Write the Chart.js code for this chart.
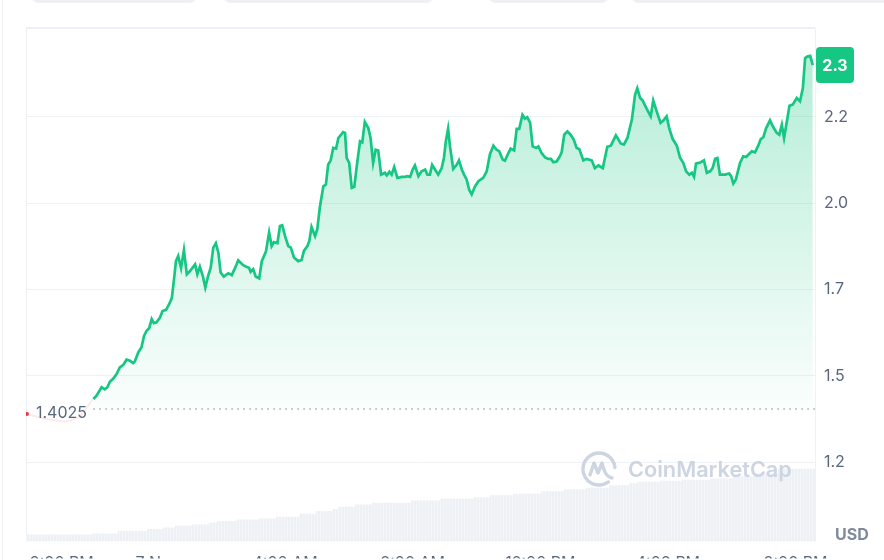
<!DOCTYPE html>
<html>
<head>
<meta charset="utf-8">
<script src="https://cdn.jsdelivr.net/npm/chart.js@4.4.0/dist/chart.umd.min.js"></script>
<style>
	html, body { margin: 0; padding: 0; background: #fff; }
	body { width: 884px; height: 560px; position: relative; overflow: hidden; font-family: Inter, sans-serif; }
	.tab { position: absolute; top: -10px; height: 13px; background: #eef0f3; border-radius: 0 0 8px 8px; }
	.edge { position: absolute; left: 2px; top: 0; width: 1px; height: 560px; background: #eff1f4; }
	#chart { position: absolute; left: 0; top: 0; }
</style>
</head>
<body>
<div class="tab" style="left:31px;width:166px"></div>
<div class="tab" style="left:223px;width:211px"></div>
<div class="tab" style="left:488px;width:121px"></div>
<div class="tab" style="left:631px;width:260px"></div>
<div class="edge"></div>
<canvas id="chart" width="884" height="560"></canvas>
<script>
'use strict'

// price, hours from midnight 7 Nov
const priceTimes = [-2.01,-1.91,-1.75,-1.65,-1.57,-1.49,-1.39,-1.28,-1.18,-1.07,
	-0.97,-0.86,-0.76,-0.71,-0.60,-0.50,-0.42,-0.34,-0.26,-0.18,
	-0.11,-0.03,0.08,0.16,0.27,0.37,0.45,0.52,0.58,0.65,
	0.74,0.83,0.92,1.02,1.18,1.25,1.33,1.42,1.50,1.59,
	1.67,1.75,1.83,1.91,1.98,2.08,2.22,2.33,2.48,2.53,
	2.69,2.80,2.87,2.92,3.00,3.08,3.19,3.27,3.40,3.50,
	3.58,3.65,3.76,3.84,3.91,4.00,4.10,4.18,4.28,4.41,
	4.52,4.59,4.70,4.76,4.83,4.94,5.01,5.09,5.20,5.28,
	5.35,5.43,5.51,5.60,5.67,5.82,5.88,5.93,6.01,6.09,
	6.17,6.26,6.35,6.42,6.50,6.61,6.68,6.76,6.84,6.92,
	7.01,7.13,7.19,7.27,7.34,7.42,7.52,7.66,7.76,7.83,
	7.92,8.00,8.07,8.18,8.28,8.39,8.46,8.54,8.61,8.70,
	8.80,8.91,8.98,9.04,9.11,9.17,9.27,9.38,9.45,9.54,
	9.61,9.69,9.77,9.85,9.95,10.06,10.21,10.32,10.42,10.53,
	10.63,10.71,10.82,10.89,11.00,11.07,11.18,11.26,11.34,11.44,
	11.52,11.59,11.68,11.76,11.87,11.94,12.04,12.15,12.25,12.33,
	12.41,12.51,12.60,12.67,12.75,12.85,12.95,13.05,13.14,13.22,
	13.35,13.45,13.61,13.71,13.82,13.96,14.10,14.21,14.37,14.52,
	14.62,14.73,14.87,14.97,15.04,15.13,15.21,15.34,15.46,15.54,
	15.65,15.77,15.86,15.96,16.04,16.15,16.28,16.38,16.48,16.57,
	16.67,16.75,16.82,16.88,17.03,17.13,17.22,17.32,17.40,17.48,
	17.55,17.63,17.79,17.92,17.98,18.05,18.13,18.26,18.36,18.45,
	18.55,18.63,18.73,18.83,18.91,18.99,19.08,19.20,19.30,19.41,
	19.49,19.57,19.64,19.72,19.81,19.91,20.04,20.14,20.23,20.30,
	20.37,20.46,20.54];

const priceValues = [1.430,1.439,1.462,1.456,1.462,1.477,1.485,1.498,1.516,1.523,
	1.537,1.534,1.528,1.532,1.557,1.571,1.602,1.616,1.623,1.648,
	1.637,1.639,1.652,1.670,1.673,1.689,1.705,1.757,1.806,1.820,
	1.787,1.836,1.770,1.779,1.797,1.770,1.791,1.766,1.734,1.766,
	1.788,1.843,1.855,1.829,1.775,1.764,1.773,1.768,1.797,1.808,
	1.795,1.790,1.788,1.777,1.784,1.764,1.759,1.806,1.832,1.884,
	1.847,1.858,1.855,1.902,1.904,1.874,1.847,1.843,1.816,1.806,
	1.809,1.834,1.847,1.861,1.899,1.874,1.893,1.953,2.010,2.015,
	2.069,2.081,2.115,2.113,2.142,2.158,2.156,2.088,2.074,2.006,
	2.009,2.074,2.133,2.130,2.186,2.169,2.142,2.074,2.110,2.108,
	2.042,2.047,2.040,2.050,2.042,2.063,2.033,2.036,2.036,2.038,
	2.036,2.056,2.067,2.038,2.051,2.056,2.042,2.042,2.069,2.056,
	2.042,2.060,2.088,2.133,2.167,2.119,2.058,2.069,2.081,2.056,
	2.042,2.029,2.001,1.988,2.009,2.024,2.033,2.051,2.097,2.121,
	2.110,2.106,2.083,2.080,2.101,2.113,2.108,2.167,2.167,2.205,
	2.195,2.199,2.184,2.119,2.115,2.119,2.101,2.089,2.085,2.085,
	2.076,2.078,2.090,2.103,2.151,2.160,2.151,2.137,2.115,2.112,
	2.081,2.085,2.081,2.060,2.067,2.060,2.118,2.121,2.149,2.127,
	2.124,2.142,2.192,2.260,2.278,2.251,2.244,2.221,2.201,2.244,
	2.214,2.183,2.190,2.201,2.169,2.139,2.121,2.088,2.074,2.051,
	2.042,2.047,2.036,2.072,2.076,2.081,2.047,2.051,2.060,2.085,
	2.087,2.042,2.042,2.045,2.038,2.018,2.029,2.074,2.092,2.090,
	2.099,2.106,2.103,2.121,2.139,2.144,2.169,2.190,2.172,2.156,
	2.151,2.178,2.142,2.183,2.230,2.233,2.251,2.242,2.278,2.360,
	2.364,2.366,2.341];

// faded part before the period start
const preTimes = [-4.09, -3.53, -2.90, -2.43, -2.02];
const preValues = [1.389, 1.376, 1.368, 1.381, 1.430];

// 24h volume (M USD), step starts
const volumeTimes = [-4.12,-2.02,-1.24,-0.33,0.17,0.55,1.08,1.61,1.87,2.49,
	3.18,3.71,4.44,4.97,5.50,5.66,6.19,6.72,7.95,8.86,
	9.89,10.42,11.14,12.02,12.74,13.43,14.15,14.78,15.03,15.75,
	16.44,17.32,18.04,18.73,19.45,20.14,20.61];
const volumeValues = [2.9,3.5,4.0,5.2,6.2,7.0,7.9,8.5,9.5,10.2,
	11.0,11.5,12.4,13.9,15.2,16.2,17.4,18.5,19.4,20.5,
	21.4,22.2,23.2,23.9,25.2,26.2,26.9,28.2,29.2,29.9,
	30.4,30.9,31.5,32.7,34.0,36.5,36.5];

const baseline = 1.4025;
const baselineLabel = '1.4025';
const lastLabel = '2.3';

const yTickValues = [1.2562, 1.4928, 1.7294, 1.9634, 2.2];
const yTickLabels = ['1.2', '1.5', '1.7', '2.0', '2.2'];
const xTickHours = [-3, 0, 4, 8, 12, 16, 20];
const xTickLabels = ['9:00 PM', '7 Nov', '4:00 AM', '8:00 AM', '12:00 PM', '4:00 PM', '8:00 PM'];

const colors = {
	green: '#16c784',
	red: '#ea3943',
	text: '#58667e',
	grid: '#eff2f5',
	frame: '#eceff3',
	dots: '#a1a7bb',
	watermark: '#cdd4e2',
	usd: '#808a9d',
};

const canvas = document.getElementById('chart');
const ctx = canvas.getContext('2d');

let stripe = document.createElement('canvas');
stripe.width = 3;
stripe.height = 1;
let sctx = stripe.getContext('2d');
sctx.fillStyle = '#edf0f4';
sctx.fillRect(0, 0, 3, 1);
sctx.fillStyle = '#f4f6f8';
sctx.fillRect(2, 0, 1, 1);
const volumePattern = ctx.createPattern(stripe, 'repeat');

const chartDecor = {
	id: 'chartDecor',
	beforeDatasetsDraw(chart) {
		const c = chart.ctx;
		const a = chart.chartArea;
		c.save();
		c.strokeStyle = colors.frame;
		c.lineWidth = 2;
		c.beginPath();
		c.moveTo(a.left, a.top);
		c.lineTo(a.right, a.top);
		c.stroke();
		c.lineWidth = 1;
		c.beginPath();
		c.moveTo(a.left + 0.5, a.top);
		c.lineTo(a.left + 0.5, a.bottom);
		c.stroke();
		c.restore();
	},
	afterDatasetsDraw(chart) {
		const c = chart.ctx;
		const a = chart.chartArea;
		const y = chart.scales.y;
		c.save();

		// watermark
		let cx = 599, cy = 469;
		c.strokeStyle = colors.watermark;
		c.lineWidth = 3.4;
		c.lineCap = 'round';
		c.lineJoin = 'round';
		c.beginPath();
		c.arc(cx, cy, 16, 0.3 * Math.PI, 1.97 * Math.PI);
		c.stroke();
		c.beginPath();
		c.moveTo(cx - 9, cy + 6);
		c.lineTo(cx - 5, cy - 6);
		c.lineTo(cx - 1, cy + 4);
		c.lineTo(cx + 3, cy - 6);
		c.quadraticCurveTo(cx + 6, cy + 8, cx + 13, cy + 9);
		c.stroke();
		c.fillStyle = colors.watermark;
		c.textBaseline = 'middle';
		c.textAlign = 'left';
		c.font = '600 22px Inter';
		let w = c.measureText('CoinMarketCap').width;
		c.font = '600 ' + (22 * 164 / w).toFixed(1) + 'px Inter';
		c.fillText('CoinMarketCap', 628, 470);

		// open price label
		c.fillStyle = colors.text;
		c.font = '16px Inter';
		c.fillText(baselineLabel, 36, y.getPixelForValue(baseline) + 4);

		// last price badge
		let py = y.getPixelForValue(priceValues[priceValues.length - 1]);
		c.fillStyle = colors.green;
		c.beginPath();
		c.roundRect(a.right + 1, py - 18, 38, 36, 4);
		c.fill();
		c.fillStyle = '#fff';
		c.textAlign = 'center';
		c.font = 'bold 16px Inter';
		c.fillText(lastLabel, a.right + 20, py + 1);

		// currency
		c.fillStyle = colors.usd;
		c.textAlign = 'left';
		c.font = 'bold 16px Inter';
		c.fillText('USD', 835, a.bottom - 6);
		c.restore();
	},
};

let chart = new Chart(canvas, {
	type: 'line',
	data: {
		datasets: [
			{
				label: 'Price',
				data: priceTimes.map((t, i) => ({ x: t, y: priceValues[i] })),
				borderColor: colors.green,
				borderWidth: 2.7,
				backgroundColor: function (context) {
					const { chart } = context;
					if (!chart.chartArea) return 'rgba(22,199,132,0.15)';
					const s = chart.scales.y;
					let g = chart.ctx.createLinearGradient(0, s.getPixelForValue(2.37), 0, s.getPixelForValue(baseline));
					g.addColorStop(0, 'rgba(22,199,132,0.32)');
					g.addColorStop(1, 'rgba(22,199,132,0.02)');
					return g;
				},
				fill: { value: baseline },
				pointRadius: 0,
				tension: 0,
				yAxisID: 'y',
				order: 1,
			},
			{
				label: 'Open',
				data: [{ x: priceTimes[0], y: baseline }, { x: 20.61, y: baseline }],
				borderColor: colors.dots,
				borderWidth: 1.5,
				borderDash: [1.5, 4.5],
				pointRadius: 0,
				fill: false,
				yAxisID: 'y',
				order: 2,
			},
			{
				label: 'Before',
				data: preTimes.map((t, i) => ({ x: t, y: preValues[i] })),
				borderColor: 'rgba(234,57,67,0.1)',
				borderWidth: 2,
				pointRadius: (c) => (c.dataIndex === 0 ? 2 : 0),
				pointBackgroundColor: colors.red,
				pointBorderWidth: 0,
				fill: false,
				yAxisID: 'y',
				order: 3,
			},
			{
				label: 'Volume',
				data: volumeTimes.map((t, i) => ({ x: t, y: volumeValues[i] })),
				stepped: 'after',
				borderWidth: 0,
				borderColor: 'rgba(0,0,0,0)',
				backgroundColor: volumePattern,
				fill: 'origin',
				pointRadius: 0,
				yAxisID: 'yv',
				order: 4,
			},
		],
	},
	options: {
		responsive: false,
		animation: false,
		events: [],
		layout: {
			padding: { left: 26, top: 28, right: 0, bottom: 0 },
		},
		plugins: {
			legend: { display: false },
			tooltip: { enabled: false },
		},
		scales: {
			x: {
				type: 'linear',
				min: -4.12,
				max: 20.61,
				grid: { display: false, drawTicks: false },
				border: { display: false },
				afterBuildTicks: (scale) => {
					scale.ticks = xTickHours.map((v) => ({ value: v }));
				},
				afterFit: (scale) => {
					scale.height = 17;
				},
				ticks: {
					autoSkip: false,
					maxRotation: 0,
					padding: 12,
					color: colors.text,
					font: { family: 'Inter', size: 16 },
					callback: (v, i) => xTickLabels[i],
				},
			},
			y: {
				position: 'right',
				min: 1.0413,
				max: 2.4421,
				grid: {
					color: colors.grid,
					drawTicks: false,
				},
				border: { display: true, color: colors.grid },
				afterBuildTicks: (scale) => {
					scale.ticks = yTickValues.map((v) => ({ value: v }));
				},
				afterFit: (scale) => {
					scale.width = 69;
				},
				ticks: {
					padding: 9,
					color: colors.text,
					font: { family: 'Inter', size: 16 },
					callback: (v, i) => yTickLabels[i],
				},
			},
			yv: {
				display: false,
				min: 0,
				max: 257.5,
			},
		},
	},
	plugins: [chartDecor],
});
</script>
</body>
</html>
